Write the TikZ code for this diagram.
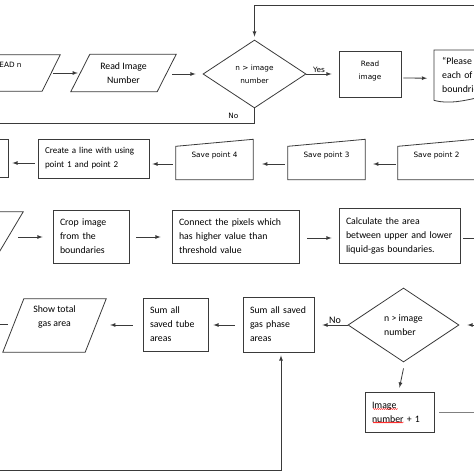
\documentclass[tikz,border=0pt]{standalone}
\usepackage{fontspec}
\setmainfont{Carlito}
\newfontfamily\vfont{DejaVu Sans}
\usetikzlibrary{shapes.geometric,decorations.pathmorphing}

\definecolor{linec}{HTML}{3A3A3A}
\newcommand\calfont{\fontsize{9.8}{14}\selectfont}
\newcommand\verfont{\vfont\fontsize{7.3}{13}\selectfont}

\begin{document}
\begin{tikzpicture}[x=1pt,y=-1pt,
    ln/.style={draw=linec,line width=.8pt},
    arr/.style={ln,-latex},
    proc/.style={ln,rectangle,align=left,inner xsep=7pt,inner ysep=0pt,font=\calfont},
    shapebox/.style={rectangle,inner sep=0pt,align=center},
    decision/.style={ln,diamond,inner sep=0pt},
    lbl/.style={inner sep=1pt}]

    \useasboundingbox (0,0) rectangle (474,474);
    \clip (0,0) rectangle (474,474);

    % Row 1: read n, read image number, test, read image
    \node[shapebox,font=\verfont,minimum width=104pt,minimum height=36pt,text depth=16pt] (readn) at (8,73) {READ n};
    \node[shapebox,font=\calfont,minimum width=105pt,minimum height=37pt] (rimgn) at (123.5,73) {Read Image\\Number};
    \node[decision,font=\verfont,align=center,minimum width=103pt,minimum height=68pt] (test1) at (254.5,74) {n > image\\number};
    \node[proc,font=\verfont,align=center,text width=48pt,minimum height=46pt,text depth=21pt] (readimg) at (370,74) {Read\\image};
    \node[shapebox,font=\calfont,align=left,anchor=north west,inner xsep=8pt,text width=70pt,minimum height=50pt] (please) at (434,50) {“Please\\each of\\boundries};
    \draw[ln] (please.south west) -- (please.north west) -- (please.north east) -- ([yshift=3pt]please.south east)
        .. controls +(-25,-12) and +(30,8) .. (please.south west);

    % Row 2: the saved points
    \node[proc,minimum width=80pt,minimum height=38pt] (lbox) at (-32,158) {};
    \node[proc,font=\fontsize{9}{14}\selectfont,text width=97pt,minimum height=39pt] (cline) at (93.5,158.5) {Create a line with using\\point 1 and point 2};
    \foreach \nm/\xc/\num in {sp4/214.5/4,sp3/326.5/3,sp2/436.5/2} {
        \node[shapebox,font=\verfont,minimum width=77pt,minimum height=40pt,text depth=9.5pt] (\nm) at (\xc,159.5) {Save point \num};
        \draw[ln] (\nm.south west) -- ([yshift=-7pt]\nm.north west) -- (\nm.north east) -- (\nm.south east) -- cycle;
    }

    % Row 3: crop and area
    \node[shapebox,minimum width=80pt,minimum height=50pt] (lpar) at (-17,237) {};
    \node[proc,text width=62pt,minimum height=53pt] (crop) at (91,236.5) {Crop image\\from the\\boundaries};
    \node[proc,text width=113pt,minimum height=53pt] (conn) at (235.5,236.5) {Connect the pixels which\\has higher value than\\threshold value};
    \node[proc,text width=107pt,minimum height=55pt] (calc) at (399.5,235.5) {Calculate the area\\between upper and lower\\liquid-gas boundaries.};

    % Row 4: sums and second test
    \node[shapebox,font=\calfont,minimum width=103pt,minimum height=53pt,text depth=19pt] (showg) at (54.5,325.5) {Show total\\gas area};
    \node[proc,text width=51pt,minimum height=53pt] (tube) at (175.5,324.5) {Sum all\\saved tube\\areas};
    \node[proc,text width=57pt,minimum height=55pt] (gasph) at (278.5,324.5) {Sum all saved\\gas phase\\areas};
    \node[decision,font=\calfont,align=left,minimum width=111pt,minimum height=74pt] (test2) at (403.5,325) {n > image\\number};
    \node[proc,text width=55pt,minimum height=40pt] (incr) at (399.5,412) {Image\\number + 1};
    \draw[red,line width=.4pt,decorate,decoration={snake,amplitude=.5pt,segment length=2pt}]
        (373,409) -- (397,409) (373,422) -- (404,422);

    % Parallelograms
    \foreach \nm/\off in {readn/18pt,rimgn/19pt,lpar/30pt,showg/21pt}
        \draw[ln] (\nm.south west) -- ([xshift=-\off]\nm.south east) -- (\nm.north east) -- ([xshift=\off]\nm.north west) -- cycle;

    % Free ends
    \coordinate (topin) at (490,5);
    \coordinate (noout) at (-10,123);
    \coordinate (calcout) at (490,238);
    \coordinate (test2in) at (490,325);
    \coordinate (showout) at (-15,324.5);
    \coordinate (incrout) at (490,412);
    \coordinate (loopin) at (-10,470);

    % Connectors
    \draw[arr] ([xshift=-7pt]readn.east) -- ([xshift=7pt]rimgn.west);
    \draw[arr] ([xshift=-4pt,yshift=-1pt]rimgn.east) -- ([xshift=-7pt]test1.west);
    \draw[arr] (test1.east) -- node[above,lbl,font=\verfont]{Yes} ([xshift=-7pt]readimg.west);
    \draw[arr] ([xshift=2pt,yshift=-4pt]readimg.east) -- ([xshift=-7pt,yshift=-3pt]please.west);
    \draw[arr] (topin) -| ([yshift=3pt]test1.north);
    \draw[ln] (test1.south) |- node[pos=.54,above=3pt,lbl,font=\verfont]{No} (noout);

    \draw[arr] ([xshift=-2pt,yshift=-4.5pt]sp2.west) -- ([xshift=8pt,yshift=-4.5pt]sp3.east);
    \draw[arr] ([xshift=-3pt,yshift=-4.5pt]sp3.west) -- ([xshift=9pt,yshift=-4.5pt]sp4.east);
    \draw[arr] ([xshift=-3pt,yshift=-4.5pt]sp4.west) -- ([xshift=3pt,yshift=-5.5pt]cline.east);
    \draw[arr] ([xshift=-3pt,yshift=-4.5pt]cline.west) -- ([xshift=4pt,yshift=-5pt]lbox.east);

    \draw[arr] ([xshift=-5pt]lpar.east) -- ([xshift=-10pt,yshift=-.5pt]crop.west);
    \draw[arr] ([xshift=7pt,yshift=-.5pt]crop.east) -- ([xshift=-11pt,yshift=-.5pt]conn.west);
    \draw[arr] ([xshift=8pt,yshift=-1.5pt]conn.east) -- ([xshift=-7pt,yshift=-2.5pt]calc.west);
    \draw[arr] ([xshift=3pt,yshift=-2.5pt]calc.east) -- (calcout);

    \draw[arr] (test2in) -- ([xshift=8pt]test2.east);
    \draw[arr] (test2.west) -- node[above,lbl]{No} ([xshift=8pt,yshift=-.5pt]gasph.east);
    \draw[arr] ([xshift=-8pt,yshift=-.5pt]gasph.west) -- ([xshift=5pt,yshift=-.5pt]tube.east);
    \draw[arr] ([xshift=-10pt,yshift=-.5pt]tube.west) -- ([xshift=4pt,yshift=.5pt]showg.east);
    \draw[arr] ([xshift=5pt,yshift=1pt]showg.west) -- (showout);
    \draw[arr] ([yshift=-6pt]test2.south) -- ([yshift=4pt]incr.north);
    \draw[ln,draw=gray] ([xshift=5pt]incr.east) -- (incrout);
    \draw[arr] (loopin) -| ([xshift=2.5pt,yshift=-3pt]gasph.south);

\end{tikzpicture}
\end{document}
